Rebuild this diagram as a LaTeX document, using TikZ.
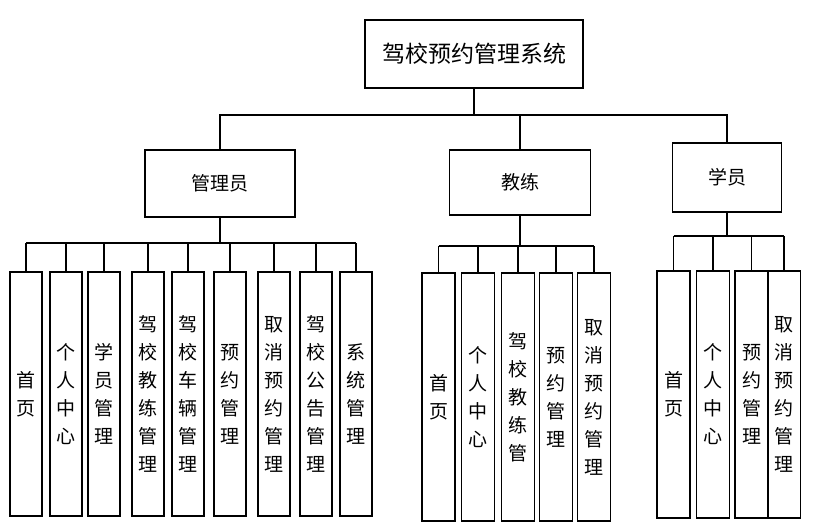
\documentclass[tikz,border=0pt]{standalone}
\usepackage{fontspec}
\setmainfont{Noto Sans CJK SC}
\begin{document}
\begin{tikzpicture}[x=1pt,y=-1pt,line width=1.4pt,
  bx/.style={draw,rectangle,inner sep=0pt},
  vt/.style={align=center,font=\fontsize{19}{28}\selectfont}]
\useasboundingbox (0,0) rectangle (815,525);
\fill[white] (0,0) rectangle (815,525);
% top level
\node[bx,minimum width=218,minimum height=68,font=\fontsize{23}{28}\selectfont] (root) at (474,54) {驾校预约管理系统};
\node[bx,minimum width=150,minimum height=67,font=\fontsize{19}{24}\selectfont] (adm) at (220,183.5) {管理员};
\node[bx,minimum width=141,minimum height=65,font=\fontsize{19}{24}\selectfont] (coa) at (520,182.5) {教练};
\node[bx,minimum width=109,minimum height=69,font=\fontsize{19}{24}\selectfont] (stu) at (727,177.5) {学员};
\coordinate (r1) at (474,115);
\draw (root.south) -- (r1);
\draw (adm.north) |- (r1) -| (stu.north);
\draw (coa.north) -- (coa.north |- r1);
% admin children
\coordinate (ab) at (220,243);
\draw (adm.south) -- (ab);
\foreach \n/\x/\t in {a1/26/首\\页, a2/66/个\\人\\中\\心, a3/104/学\\员\\管\\理, a4/148/驾\\校\\教\\练\\管\\理, a5/188/驾\\校\\车\\辆\\管\\理, a6/230/预\\约\\管\\理, a7/274/取\\消\\预\\约\\管\\理, a8/316/驾\\校\\公\\告\\管\\理, a9/356/系\\统\\管\\理}{
  \node[bx,minimum width=32,minimum height=244] (\n) at (\x,394) {};
  \node[vt] at (\n.center) {\t};
  \draw (\n.north) -- (\n.north |- ab);
}
\draw (a1.north |- ab) -- (a9.north |- ab);
% coach children
\coordinate (cb) at (520,246);
\draw (coa.south) -- (cb);
\foreach \n/\x/\t in {c1/438.5/首\\页, c2/478/个\\人\\中\\心, c3/518/驾\\校\\教\\练\\管, c4/556/预\\约\\管\\理, c5/594/取\\消\\预\\约\\管\\理}{
  \node[bx,minimum width=33,minimum height=248] (\n) at (\x,397) {};
  \node[vt] at (\n.center) {\t};
  \draw (\n.north) -- (\n.north |- cb);
}
\draw (c1.north |- cb) -- (c5.north |- cb);
% student children
\coordinate (sb) at (727,236);
\draw (stu.south) -- (sb);
\foreach \n/\x/\t in {s1/673.5/首\\页, s2/713/个\\人\\中\\心, s3/751.5/预\\约\\管\\理, s4/784/取\\消\\预\\约\\管\\理}{
  \node[bx,minimum width=33,minimum height=247] (\n) at (\x,394.5) {};
  \node[vt] at (\n.center) {\t};
  \draw (\n.north) -- (\n.north |- sb);
}
\draw (s1.north |- sb) -- (s4.north |- sb);
\end{tikzpicture}
\end{document}
